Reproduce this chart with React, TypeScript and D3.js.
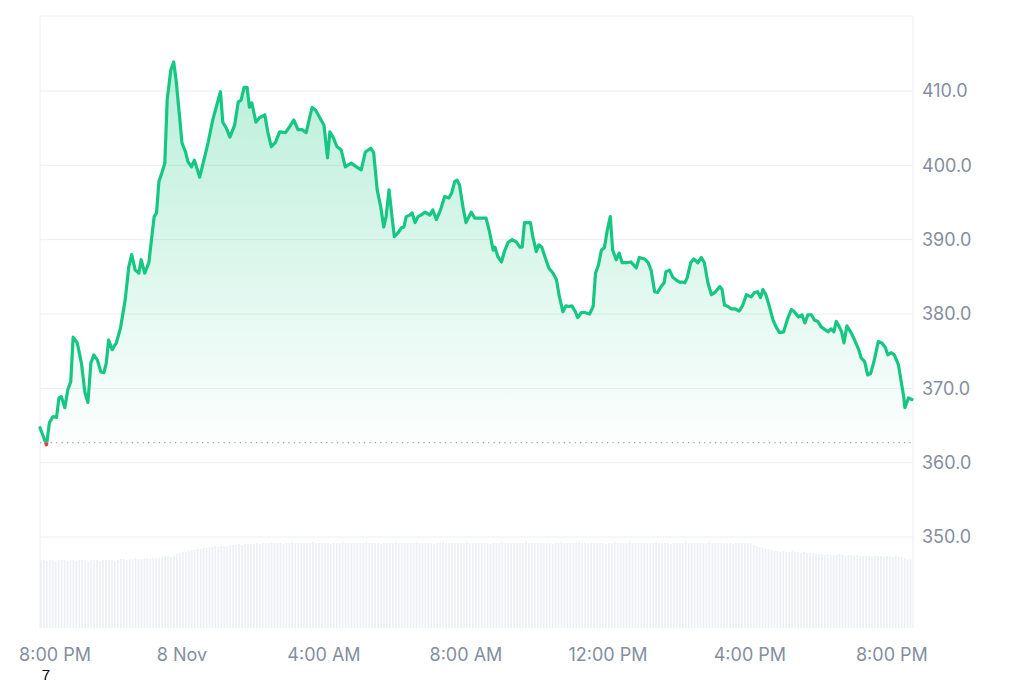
import React from 'react';
import * as d3 from 'd3';

const START = new Date(2023, 10, 7, 20, 0, 0);

// [minutes since 7 Nov 8:00 PM, price]
const prices: [number, number][] = [
  [0,364.7],[11,362.4],[16,365.4],[22,366.2],[28,366.1],[32,368.7],[36,368.9],[42,367.4],[47,369.8],[52,370.9],
  [56,376.9],[63,376.1],[70,373.4],[76,369.4],[81,368.1],[86,373.4],[91,374.5],[97,373.8],[103,372.2],[108,372.1],
  [112,373.4],[116,376.5],[122,375.2],[129,376.1],[136,378.1],[144,381.9],[150,386.3],[155,388.0],[161,385.9],[167,385.5],
  [171,387.3],[177,385.5],[184,386.9],[189,390.4],[193,393.1],[197,393.6],[201,397.8],[206,399.0],[211,400.3],[215,408.8],
  [221,412.8],[226,413.9],[230,411.5],[236,406.5],[240,403.0],[246,401.8],[250,400.5],
  [256,399.8],[261,400.7],[270,398.4],[277,400.7],[284,403.0],[292,406.1],[305,409.9],[309,405.8],[315,405.0],[321,403.8],
  [329,405.4],[335,408.5],[340,408.8],[345,410.5],[350,410.5],[354,407.8],[358,408.4],[365,405.8],[371,406.4],[380,406.8],
  [385,404.5],[391,402.5],[398,403.1],[405,404.5],[415,404.4],[422,405.2],[429,406.1],[436,404.8],[443,404.8],[450,404.4],
  [456,406.5],[460,407.8],[466,407.4],[473,406.4],[480,405.4],[486,401.0],[490,404.5],[496,403.7],[502,402.5],
  [509,402.1],[516,399.8],[526,400.3],[535,399.8],[543,399.4],[550,401.8],[559,402.3],[564,401.7],[570,396.7],[576,394.4],
  [581,391.7],[585,393.1],[590,396.7],[595,393.1],[599,390.4],[605,390.9],[611,391.6],[615,391.7],[619,393.1],[625,393.3],
  [629,393.6],[634,392.3],[639,393.1],[644,393.3],[651,393.7],[659,393.3],[664,394.0],[670,392.7],[677,394.0],[684,395.8],
  [691,395.6],[696,396.3],[701,397.8],[705,398.0],[709,397.4],[715,394.4],[720,392.3],[729,393.7],[735,392.9],[743,392.9],
  [754,392.9],[760,391.0],
  [766,388.6],[769,389.0],[774,387.7],[780,387.0],[785,388.4],[791,389.6],[798,390.0],[805,389.7],[811,389.0],[815,389.0],
  [819,392.3],[824,392.3],[829,392.3],[833,390.4],[839,388.4],[843,389.3],[848,389.0],[854,387.6],[860,386.2],[867,385.5],
  [873,384.6],[878,382.3],[884,380.3],[889,381.1],[894,381.0],[899,381.1],[905,380.3],[909,379.5],[915,380.2],[921,380.2],
  [929,380.0],[935,381.0],[939,385.5],[944,386.6],[949,388.6],[954,388.9],[959,391.3],[964,393.1],[968,388.6],[974,387.3],
  [979,388.2],[984,386.9],[991,386.9],[999,387.0],[1008,386.2],[1013,387.6],
  [1022,387.4],[1028,386.9],[1033,385.9],[1039,383.0],[1044,382.9],[1050,383.7],[1055,384.2],[1058,385.7],[1064,385.9],[1070,384.9],
  [1075,384.6],[1081,384.3],[1085,384.3],[1090,384.2],[1094,384.9],[1100,386.9],[1105,387.4],[1112,386.9],[1118,387.6],[1123,386.9],
  [1129,384.2],[1135,382.6],[1141,382.9],[1149,383.7],[1153,383.3],[1157,381.2],[1163,381.0],[1168,380.7],[1174,380.7],[1182,380.4],
  [1188,381.2],[1194,382.6],[1202,382.3],[1208,382.9],[1213,383.0],[1218,382.2],[1222,383.3],[1227,382.6],[1233,381.0],[1239,379.2],
  [1244,378.3],[1250,377.5],[1257,377.6],[1263,379.2],
  [1270,380.6],[1275,380.3],[1282,379.6],[1288,379.9],[1293,378.8],[1298,379.9],[1304,379.9],[1309,379.2],[1315,379.0],[1320,378.3],
  [1327,377.9],[1332,377.6],[1337,378.0],[1342,377.6],[1346,379.0],[1351,378.3],[1355,377.6],[1359,376.1],[1364,378.4],[1371,377.5],
  [1377,376.5],[1384,375.2],[1388,374.1],[1394,373.6],[1399,371.8],[1404,372.0],[1409,373.4],[1413,374.8],[1417,376.3],[1423,376.1],
  [1429,375.5],[1433,374.5],[1439,374.8],[1444,374.5],[1451,373.2],[1456,370.8],[1460,368.9],[1462,367.4],[1468,368.7],[1474,368.5],
];

// volume, one bar every 5 minutes (arbitrary units)
const volumes: number[] = [
  68,68,67,68,68,67,68,68,68,67,68,68,67,68,68,68,67,68,68,68,67,68,68,68,68,67,68,
  69,69,68,69,69,70,69,69,70,70,69,70,70,70,
  71,72,72,71,72,
  74,75,76,76,77,78,78,79,79,
  80,80,81,81,82,81,82,82,82,83,
  83,83,84,83,84,84,84,84,85,84,85,
  85,85,86,85,85,85,84,85,85,86,85,85,85,85,85,
  85,86,85,85,85,85,85,84,85,85,85,86,85,85,85,
  85,85,85,85,86,85,85,85,85,84,85,85,85,85,86,
  85,85,85,85,85,85,86,85,85,85,85,85,84,85,85,
  86,85,85,85,85,85,85,85,86,85,85,85,85,85,85,
  85,84,85,85,85,86,85,85,85,85,85,85,85,86,85,
  85,85,85,85,85,85,85,84,85,85,86,85,85,85,85,
  85,86,85,85,85,85,85,85,85,85,84,85,85,86,85,
  85,85,85,86,85,85,85,85,85,85,85,85,86,85,85,
  85,85,84,85,85,85,85,86,85,85,85,85,85,85,85,
  86,85,85,85,85,85,85,85,84,85,85,85,85,85,85,
  83,82,81,80,79,79,78,
  77,77,76,77,76,76,77,76,76,75,76,75,75,75,74,
  74,74,73,74,73,73,73,74,73,72,73,73,72,73,72,
  72,72,72,71,72,72,72,71,72,72,71,72,71,71,
  70,69,69,
];
const volumeStepMin = 5;

const yTicks = [350, 360, 370, 380, 390, 400, 410];
const xTickHours = [0, 4, 8, 12, 16, 20, 24];
const xTickLabels = ['8:00 PM', '8 Nov', '4:00 AM', '8:00 AM', '12:00 PM', '4:00 PM', '8:00 PM'];
const baselinePrice = 362.7;

const GREEN = '#16c784';
const RED = '#ea3943';
const GRID = '#eceef1';
const LABEL = '#858e9d';
const FONT = 'Inter, "Noto Sans", sans-serif';

const minToDate = (m: number) => new Date(START.getTime() + m * 60000);

export default function App() {
  const W = 1024, H = 683;
  const plotLeft = 40, plotRight = 913, plotTop = 16, plotBottom = 628;
  const lastMin = prices[prices.length - 1][0];

  const x = d3.scaleTime().domain([START, minToDate(lastMin)]).range([40, 912]);
  const y = d3.scaleLinear().domain([350, 410]).range([537, 91]);
  const vy = d3.scaleLinear().domain([0, 85]).range([plotBottom, 543]);

  const by = y(baselinePrice);
  const line = d3.line<[number, number]>()
    .x(d => x(minToDate(d[0])))
    .y(d => y(d[1]));
  const area = d3.area<[number, number]>()
    .x(d => x(minToDate(d[0])))
    .y0(by)
    .y1(d => y(d[1]));

  const pitch = x(minToDate(volumeStepMin)) - x(minToDate(0));

  return (
    <svg width={W} height={H} style={{ position: 'absolute', left: 0, top: 0, background: '#fff' }}>
      <defs>
        <linearGradient id="gFill" gradientUnits="userSpaceOnUse" x1="0" y1={y(414)} x2="0" y2={by}>
          <stop offset="0" stopColor={GREEN} stopOpacity={0.3} />
          <stop offset="1" stopColor={GREEN} stopOpacity={0.01} />
        </linearGradient>
        <linearGradient id="rFill" gradientUnits="userSpaceOnUse" x1="0" y1={by} x2="0" y2={y(355)}>
          <stop offset="0" stopColor={RED} stopOpacity={0.05} />
          <stop offset="1" stopColor={RED} stopOpacity={0.2} />
        </linearGradient>
        <clipPath id="above"><rect x={0} y={0} width={W} height={by} /></clipPath>
        <clipPath id="below"><rect x={0} y={by} width={W} height={H - by} /></clipPath>
      </defs>

      {/* volume bars */}
      <g>
        {volumes.map((v, i) => (
          <rect key={i} x={x(minToDate(i * volumeStepMin))} y={vy(v)} width={pitch * 0.6}
            height={plotBottom - vy(v)} fill="#edf0f4" />
        ))}
      </g>

      {/* frame */}
      <line x1={plotLeft} x2={plotRight} y1={plotTop} y2={plotTop} stroke={GRID} />
      <line x1={plotLeft} x2={plotLeft} y1={plotTop} y2={plotBottom} stroke={GRID} />
      <line x1={plotRight} x2={plotRight} y1={plotTop} y2={plotBottom} stroke={GRID} />

      {/* grid */}
      {yTicks.map(t => (
        <line key={t} x1={plotLeft} x2={plotRight} y1={y(t)} y2={y(t)} stroke={GRID} strokeWidth={1} />
      ))}

      {/* area */}
      <path d={area(prices) || ''} fill="url(#gFill)" clipPath="url(#above)" />
      <path d={area(prices) || ''} fill="url(#rFill)" clipPath="url(#below)" />

      {/* baseline */}
      <line x1={plotLeft} x2={plotRight} y1={by} y2={by} stroke="#9aa2b1" strokeWidth={1.2} strokeDasharray="1.2 4.2" />

      {/* line */}
      <path d={line(prices) || ''} fill="none" stroke={GREEN} strokeWidth={3.2} strokeLinejoin="round" strokeLinecap="round" clipPath="url(#above)" />
      <path d={line(prices) || ''} fill="none" stroke={RED} strokeWidth={3.2} strokeLinejoin="round" strokeLinecap="round" clipPath="url(#below)" />

      {/* y labels */}
      {yTicks.map(t => (
        <text key={t} x={922} y={y(t)} dy="0.35em" fill={LABEL} fontSize={18} fontFamily={FONT}>
          {t.toFixed(1)}
        </text>
      ))}

      {/* x labels */}
      {xTickHours.map((h, i) => (
        <text key={i} x={Math.max(x(minToDate(h * 60)), 55)} y={655} dy="0.35em" textAnchor="middle"
          fill={LABEL} fontSize={18} fontFamily={FONT}>
          {xTickLabels[i]}
        </text>
      ))}

      <text x={46} y={679.5} textAnchor="middle" fill="#000" fontSize={15} fontFamily='"Liberation Sans", Arial, sans-serif'>7</text>
    </svg>
  );
}
